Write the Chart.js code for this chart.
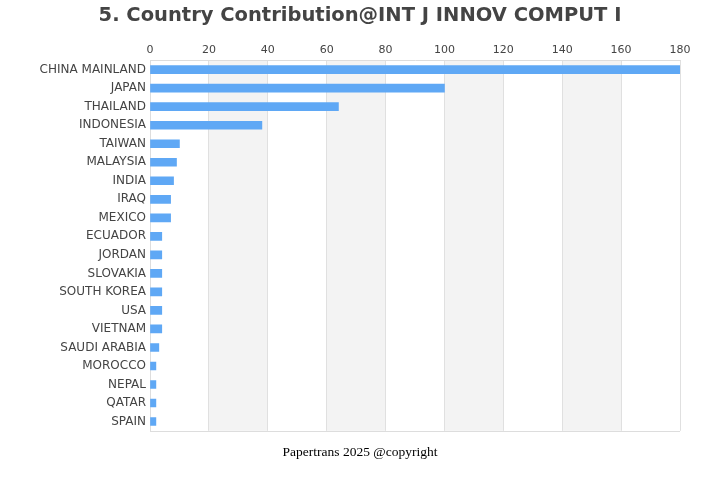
<!DOCTYPE html>
<html>
<head>
<meta charset="utf-8">
<script src="https://cdn.jsdelivr.net/npm/chart.js@4.4.1/dist/chart.umd.min.js"></script>
<style>
  html, body { margin: 0; padding: 0; background: #ffffff; }
  #c { display: block; }
</style>
</head>
<body>
<canvas id="c" width="720" height="480"></canvas>
<script>
const countries = ["CHINA MAINLAND","JAPAN","THAILAND","INDONESIA","TAIWAN","MALAYSIA","INDIA","IRAQ","MEXICO","ECUADOR","JORDAN","SLOVAKIA","SOUTH KOREA","USA","VIETNAM","SAUDI ARABIA","MOROCCO","NEPAL","QATAR","SPAIN"];
const contributions = [180,100,64,38,10,9,8,7,7,4,4,4,4,4,4,3,2,2,2,2];
const xTickValues = [0,20,40,60,80,100,120,140,160,180];
const titleText = "5. Country Contribution@INT J INNOV COMPUT I";
const footerText = "Papertrans 2025 @copyright";

const bandsPlugin = {
  id: 'bands',
  beforeDraw(chart) {
    const { ctx, chartArea, scales } = chart;
    const x = scales.x;
    ctx.save();
    ctx.fillStyle = '#f3f3f3';
    for (let i = 0; i < xTickValues.length - 1; i++) {
      if (i % 2 === 1) {
        const x0 = x.getPixelForValue(xTickValues[i]);
        const x1 = x.getPixelForValue(xTickValues[i + 1]);
        ctx.fillRect(x0, chartArea.top, x1 - x0, chartArea.bottom - chartArea.top);
      }
    }
    ctx.restore();
  },
  afterDatasetsDraw(chart) {
    const { ctx, chartArea } = chart;
    ctx.save();
    ctx.strokeStyle = '#dddddd';
    ctx.lineWidth = 1;
    ctx.beginPath();
    ctx.moveTo(chartArea.left, Math.round(chartArea.bottom) + 0.5);
    ctx.lineTo(chartArea.right, Math.round(chartArea.bottom) + 0.5);
    ctx.stroke();
    ctx.restore();
  }
};

new Chart(document.getElementById('c'), {
  type: 'bar',
  data: {
    labels: countries,
    datasets: [{
      data: contributions,
      backgroundColor: '#5fa8f5',
      borderWidth: 0,
      barThickness: 8
    }]
  },
  options: {
    indexAxis: 'y',
    responsive: false,
    animation: false,
    devicePixelRatio: 1,
    layout: { padding: { left: 40, right: 40, top: 0, bottom: 0 } },
    plugins: {
      legend: { display: false },
      tooltip: { enabled: false },
      title: {
        display: true,
        text: titleText,
        color: '#444444',
        font: { family: 'DejaVu Sans', size: 19.5, weight: 'bold' },
        padding: { top: 4, bottom: 11 }
      },
      subtitle: {
        display: true,
        position: 'bottom',
        text: footerText,
        color: '#000000',
        font: { family: 'Liberation Serif', size: 13.5, weight: 'normal' },
        padding: { top: 14, bottom: 19 }
      }
    },
    scales: {
      x: {
        position: 'top',
        min: 0,
        max: 180,
        ticks: {
          stepSize: 20,
          color: '#444444',
          font: { family: 'DejaVu Sans', size: 11 },
          padding: 4
        },
        grid: { color: '#e0e0e0', drawTicks: false },
        border: { color: '#dddddd' },
        afterFit(scale) { scale.height = 22; }
      },
      y: {
        ticks: {
          color: '#444444',
          font: { family: 'DejaVu Sans', size: 12 },
          padding: 4,
          autoSkip: false
        },
        grid: { display: false, drawTicks: false },
        border: { color: '#dddddd' },
        afterFit(scale) { scale.width = 110; }
      }
    }
  },
  plugins: [bandsPlugin]
});
</script>
</body>
</html>
